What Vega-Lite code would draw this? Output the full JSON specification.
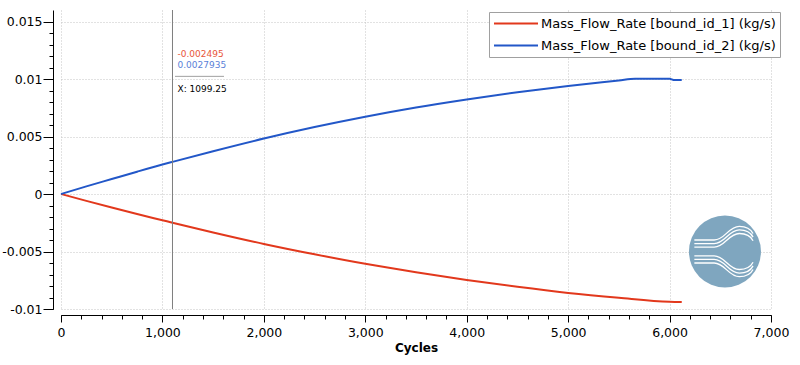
{
  "$schema": "https://vega.github.io/schema/vega-lite/v6.json",
  "width": 710,
  "height": 299,
  "autosize": {"type": "none"},
  "padding": {"left": 61, "top": 10, "right": 29, "bottom": 56},
  "background": "white",
  "config": {
    "view": {"stroke": null},
    "axis": {
      "labelFont": "DejaVu Sans",
      "labelFontSize": 12.5,
      "labelColor": "black",
      "labelFlush": false,
      "labelOverlap": false,
      "domainColor": "black",
      "tickColor": "black",
      "gridColor": "#c4c4c4",
      "gridDash": [1, 2],
      "gridWidth": 1,
      "titleFont": "DejaVu Sans",
      "titleFontSize": 12,
      "titleFontWeight": "bold",
      "titleColor": "black"
    }
  },
  "datasets": {
    "flow": [
      {"cycle": 0, "value": 0, "series": "Mass_Flow_Rate [bound_id_1] (kg/s)"},
      {"cycle": 250, "value": -0.0006, "series": "Mass_Flow_Rate [bound_id_1] (kg/s)"},
      {"cycle": 500, "value": -0.00118, "series": "Mass_Flow_Rate [bound_id_1] (kg/s)"},
      {"cycle": 750, "value": -0.00174, "series": "Mass_Flow_Rate [bound_id_1] (kg/s)"},
      {"cycle": 1000, "value": -0.00228, "series": "Mass_Flow_Rate [bound_id_1] (kg/s)"},
      {"cycle": 1099.25, "value": -0.002495, "series": "Mass_Flow_Rate [bound_id_1] (kg/s)"},
      {"cycle": 1500, "value": -0.00334, "series": "Mass_Flow_Rate [bound_id_1] (kg/s)"},
      {"cycle": 2000, "value": -0.00434, "series": "Mass_Flow_Rate [bound_id_1] (kg/s)"},
      {"cycle": 2500, "value": -0.00524, "series": "Mass_Flow_Rate [bound_id_1] (kg/s)"},
      {"cycle": 3000, "value": -0.00607, "series": "Mass_Flow_Rate [bound_id_1] (kg/s)"},
      {"cycle": 3500, "value": -0.0068, "series": "Mass_Flow_Rate [bound_id_1] (kg/s)"},
      {"cycle": 4000, "value": -0.00747, "series": "Mass_Flow_Rate [bound_id_1] (kg/s)"},
      {"cycle": 4500, "value": -0.00807, "series": "Mass_Flow_Rate [bound_id_1] (kg/s)"},
      {"cycle": 5000, "value": -0.0086, "series": "Mass_Flow_Rate [bound_id_1] (kg/s)"},
      {"cycle": 5500, "value": -0.00902, "series": "Mass_Flow_Rate [bound_id_1] (kg/s)"},
      {"cycle": 6000, "value": -0.00937, "series": "Mass_Flow_Rate [bound_id_1] (kg/s)"},
      {"cycle": 6120, "value": -0.0094, "series": "Mass_Flow_Rate [bound_id_1] (kg/s)"},
      {"cycle": 0, "value": 0, "series": "Mass_Flow_Rate [bound_id_2] (kg/s)"},
      {"cycle": 250, "value": 0.00066, "series": "Mass_Flow_Rate [bound_id_2] (kg/s)"},
      {"cycle": 500, "value": 0.0013, "series": "Mass_Flow_Rate [bound_id_2] (kg/s)"},
      {"cycle": 750, "value": 0.00194, "series": "Mass_Flow_Rate [bound_id_2] (kg/s)"},
      {"cycle": 1000, "value": 0.00256, "series": "Mass_Flow_Rate [bound_id_2] (kg/s)"},
      {"cycle": 1099.25, "value": 0.0027935, "series": "Mass_Flow_Rate [bound_id_2] (kg/s)"},
      {"cycle": 1500, "value": 0.00372, "series": "Mass_Flow_Rate [bound_id_2] (kg/s)"},
      {"cycle": 2000, "value": 0.00482, "series": "Mass_Flow_Rate [bound_id_2] (kg/s)"},
      {"cycle": 2500, "value": 0.00582, "series": "Mass_Flow_Rate [bound_id_2] (kg/s)"},
      {"cycle": 3000, "value": 0.00672, "series": "Mass_Flow_Rate [bound_id_2] (kg/s)"},
      {"cycle": 3500, "value": 0.00752, "series": "Mass_Flow_Rate [bound_id_2] (kg/s)"},
      {"cycle": 4000, "value": 0.00822, "series": "Mass_Flow_Rate [bound_id_2] (kg/s)"},
      {"cycle": 4500, "value": 0.00885, "series": "Mass_Flow_Rate [bound_id_2] (kg/s)"},
      {"cycle": 5000, "value": 0.0094, "series": "Mass_Flow_Rate [bound_id_2] (kg/s)"},
      {"cycle": 5500, "value": 0.00987, "series": "Mass_Flow_Rate [bound_id_2] (kg/s)"},
      {"cycle": 5660, "value": 0.01002, "series": "Mass_Flow_Rate [bound_id_2] (kg/s)"},
      {"cycle": 6000, "value": 0.01002, "series": "Mass_Flow_Rate [bound_id_2] (kg/s)"},
      {"cycle": 6040, "value": 0.00992, "series": "Mass_Flow_Rate [bound_id_2] (kg/s)"},
      {"cycle": 6120, "value": 0.00991, "series": "Mass_Flow_Rate [bound_id_2] (kg/s)"}
    ],
    "cursor": [
      {"cycle": 1099.25, "label1": "-0.002495", "label2": "0.0027935", "labelX": "X: 1099.25"}
    ],
    "logo": [
      {"cycle": 6546, "value": -0.005}
    ]
  },
  "layer": [
    {
      "data": {"name": "flow"},
      "mark": {"type": "point", "opacity": 0},
      "encoding": {
        "x": {
          "field": "cycle", "type": "quantitative",
          "scale": {"domain": [0, 7000]},
          "axis": {
            "orient": "bottom", "offset": 6, "domain": false, "labels": false, "grid": false,
            "tickSize": 4, "title": null,
            "values": [0,200,400,600,800,1000,1200,1400,1600,1800,2000,2200,2400,2600,2800,3000,3200,3400,3600,3800,4000,4200,4400,4600,4800,5000,5200,5400,5600,5800,6000,6200,6400,6600,6800,7000]
          }
        },
        "y": {
          "field": "value", "type": "quantitative",
          "scale": {"domain": [-0.01, 0.015]},
          "axis": {
            "orient": "left", "offset": 8, "domain": false, "labels": false, "grid": false,
            "tickSize": 4, "title": null,
            "values": [-0.01,-0.009,-0.008,-0.007,-0.006,-0.005,-0.004,-0.003,-0.002,-0.001,0,0.001,0.002,0.003,0.004,0.005,0.006,0.007,0.008,0.009,0.01,0.011,0.012,0.013,0.014,0.015]
          }
        }
      }
    },
    {
      "data": {"name": "flow"},
      "mark": {"type": "line", "strokeWidth": 2, "interpolate": "monotone"},
      "encoding": {
        "x": {
          "field": "cycle", "type": "quantitative",
          "scale": {"domain": [0, 7000]},
          "axis": {
            "orient": "bottom", "offset": 6, "tickSize": 7, "labelPadding": 4,
            "values": [0,1000,2000,3000,4000,5000,6000,7000],
            "format": ",d", "grid": true, "title": "Cycles", "titlePadding": 4
          }
        },
        "y": {
          "field": "value", "type": "quantitative",
          "scale": {"domain": [-0.01, 0.015]},
          "axis": {
            "orient": "left", "offset": 8, "tickSize": 10, "labelPadding": 1,
            "values": [-0.01,-0.005,0,0.005,0.01,0.015],
            "labelExpr": "'' + datum.value", "grid": true, "title": null
          }
        },
        "color": {
          "field": "series", "type": "nominal",
          "scale": {"domain": ["Mass_Flow_Rate [bound_id_1] (kg/s)", "Mass_Flow_Rate [bound_id_2] (kg/s)"], "range": ["#e2381c", "#2257c8"]},
          "legend": {
            "orient": "none", "legendX": 428, "legendY": 2, "title": null,
            "fillColor": "white", "strokeColor": "#a0a0a0", "padding": 4,
            "symbolType": "M -1,0 L 5.77,0", "symbolSize": 169, "symbolStrokeWidth": 2,
            "labelOffset": 33, "labelFont": "DejaVu Sans", "labelFontSize": 13,
            "labelColor": "black", "labelLimit": 400, "rowPadding": 7
          }
        }
      }
    },
    {
      "data": {"name": "cursor"},
      "mark": {"type": "rule", "color": "#7f7f7f", "strokeWidth": 1},
      "encoding": {
        "x": {"field": "cycle", "type": "quantitative", "axis": null}
      }
    },
    {
      "data": {"name": "cursor"},
      "mark": {"type": "text", "font": "DejaVu Sans", "fontSize": 9, "align": "left", "baseline": "alphabetic", "dx": 5, "color": "#e8563a"},
      "encoding": {
        "x": {"field": "cycle", "type": "quantitative", "axis": null},
        "y": {"datum": 0.01188, "type": "quantitative", "axis": null},
        "text": {"field": "label1"}
      }
    },
    {
      "data": {"name": "cursor"},
      "mark": {"type": "text", "font": "DejaVu Sans", "fontSize": 9, "align": "left", "baseline": "alphabetic", "dx": 5, "color": "#5a7fd8"},
      "encoding": {
        "x": {"field": "cycle", "type": "quantitative", "axis": null},
        "y": {"datum": 0.01096, "type": "quantitative", "axis": null},
        "text": {"field": "label2"}
      }
    },
    {
      "data": {"name": "cursor"},
      "mark": {"type": "rule", "color": "#a0a0a0", "strokeWidth": 1},
      "encoding": {
        "x": {"datum": 1124, "type": "quantitative", "axis": null},
        "x2": {"datum": 1607},
        "y": {"datum": 0.01023, "type": "quantitative", "axis": null}
      }
    },
    {
      "data": {"name": "cursor"},
      "mark": {"type": "text", "font": "DejaVu Sans", "fontSize": 9, "align": "left", "baseline": "alphabetic", "dx": 5, "color": "black"},
      "encoding": {
        "x": {"field": "cycle", "type": "quantitative", "axis": null},
        "y": {"datum": 0.00887, "type": "quantitative", "axis": null},
        "text": {"field": "labelX"}
      }
    },
    {
      "data": {"name": "logo"},
      "mark": {"type": "point", "shape": "circle", "filled": true, "size": 5184, "color": "#7fa6bf", "opacity": 1},
      "encoding": {
        "x": {"field": "cycle", "type": "quantitative", "axis": null},
        "y": {"field": "value", "type": "quantitative", "axis": null}
      }
    },
    {
      "data": {"name": "logo"},
      "mark": {
        "type": "point", "filled": false, "size": 5184, "color": "white", "strokeWidth": 1.3, "opacity": 1,
        "shape": "M -0.85,-0.12 L -0.3,-0.12 C 0,-0.12 0.1,-0.5 0.4,-0.5 C 0.6,-0.5 0.72,-0.42 0.78,-0.3 M -0.85,-0.22 L -0.3,-0.22 C 0,-0.22 0.1,-0.6 0.4,-0.6 C 0.6,-0.6 0.72,-0.52 0.78,-0.4 M -0.85,-0.32 L -0.3,-0.32 C 0,-0.32 0.1,-0.7 0.4,-0.7 C 0.6,-0.7 0.72,-0.62 0.78,-0.5 M -0.85,0.12 L -0.3,0.12 C 0,0.12 0.1,0.5 0.4,0.5 C 0.6,0.5 0.72,0.42 0.78,0.3 M -0.85,0.22 L -0.3,0.22 C 0,0.22 0.1,0.6 0.4,0.6 C 0.6,0.6 0.72,0.52 0.78,0.4 M -0.85,0.32 L -0.3,0.32 C 0,0.32 0.1,0.7 0.4,0.7 C 0.6,0.7 0.72,0.62 0.78,0.5"
      },
      "encoding": {
        "x": {"field": "cycle", "type": "quantitative", "axis": null},
        "y": {"field": "value", "type": "quantitative", "axis": null}
      }
    }
  ],
  "resolve": {"axis": {"x": "independent", "y": "independent"}}
}
